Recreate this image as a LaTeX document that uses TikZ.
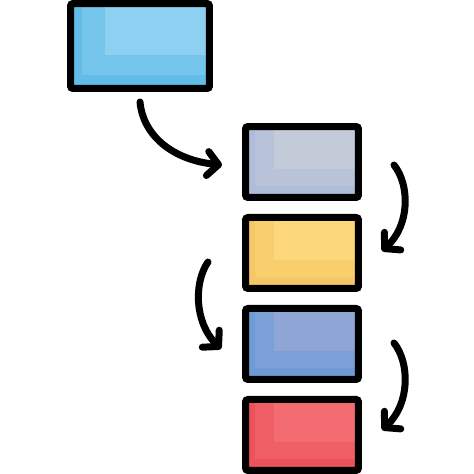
\documentclass[tikz,border=0pt]{standalone}
\usepackage{tikz}
\usetikzlibrary{calc,arrows.meta}
\definecolor{skyA}{HTML}{62BCE8}
\definecolor{skyB}{HTML}{74C4EC}
\definecolor{skyC}{HTML}{8DD0F1}
\definecolor{greyA}{HTML}{B0BDD9}
\definecolor{greyB}{HTML}{B8C3DA}
\definecolor{greyC}{HTML}{C4CBD8}
\definecolor{sandA}{HTML}{F5C766}
\definecolor{sandB}{HTML}{F9CE6C}
\definecolor{sandC}{HTML}{FCD77C}
\definecolor{denimA}{HTML}{6E9AD6}
\definecolor{denimB}{HTML}{7AA0D7}
\definecolor{denimC}{HTML}{8EA5D5}
\definecolor{coralA}{HTML}{EC525C}
\definecolor{coralB}{HTML}{F05E66}
\definecolor{coralC}{HTML}{F36C72}
\tikzset{
    card/.style n args = {3}{draw, rectangle, line width=0.14cm,
        rounded corners=0.05cm, fill=#1,
        minimum width=2.26cm, minimum height=1.42cm,
        path picture={
            \coordinate (sw) at (path picture bounding box.south west);
            \coordinate (ne) at (path picture bounding box.north east);
            \fill[#2, sharp corners] let \p1=(sw), \p2=(ne) in
                (\x1+0.085*\x2-0.085*\x1, \y1+0.16*\y2-0.16*\y1) rectangle (\p2);
            \fill[#3, sharp corners] let \p1=(sw), \p2=(ne) in
                (\x1+0.25*\x2-0.25*\x1, \y1+0.4*\y2-0.4*\y1) rectangle (\p2);
        }},
    bigcard/.style = {minimum width=2.78cm, minimum height=1.70cm},
    flow/.style = {line width=0.14cm, line cap=round,
        -{Straight Barb[length=0.22cm, width=0.48cm, round]}}
}

\begin{document}
\begin{tikzpicture}[x=0.02cm, y=-0.02cm]
        \useasboundingbox (0,0) rectangle (474,474);
        \node [card={skyA}{skyB}{skyC}, bigcard] (src) at (140,46) {};
        \node [card={greyA}{greyB}{greyC}] (s1) at (302,162) {};
        \node [card={sandA}{sandB}{sandC}, below of=s1, node distance=1.82cm] (s2) {};
        \node [card={denimA}{denimB}{denimC}, below of=s2, node distance=1.82cm] (s3) {};
        \node [card={coralA}{coralB}{coralC}, below of=s3, node distance=1.82cm] (s4) {};
        \draw [flow] ($(src.south)+(0,10)$) .. controls +(3,33) and +(-50,-5) .. ($(s1.west)+(-20,3)$);
        \draw [flow] ($(s1.east)+(32,3)$) .. controls +(16,20) and +(28,-26) .. ($(s2.east)+(20,-2)$);
        \draw [flow] ($(s2.west)+(-34,9)$) .. controls +(-14,20) and +(-27,-27) .. ($(s3.west)+(-21,5)$);
        \draw [flow] ($(s3.east)+(32,-1)$) .. controls +(16,20) and +(28,-26) .. ($(s4.east)+(20,-5)$);
\end{tikzpicture}
\end{document}
